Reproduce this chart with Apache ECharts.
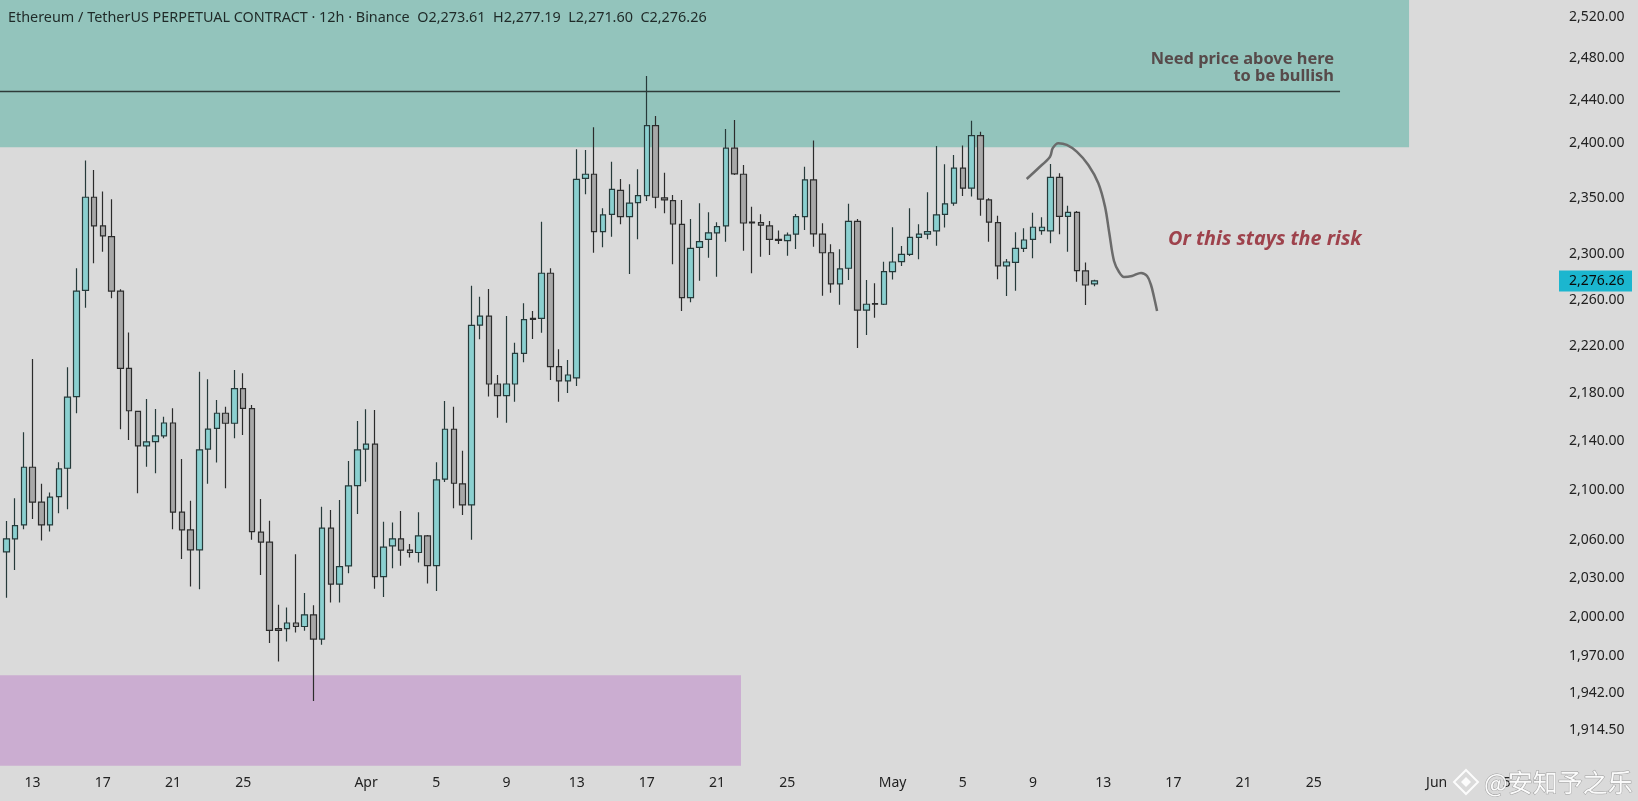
<!DOCTYPE html>
<html><head><meta charset="utf-8">
<script src="https://cdn.jsdelivr.net/npm/echarts@6/dist/echarts.min.js"></script>
<style>html,body{margin:0;padding:0;background:#dadada;}#c{width:1638px;height:801px;}</style>
</head><body><div id="c"></div>
<script>
// x is measured in hours after 2023-03-13 00:00 UTC ; first candle is 36h before it, 12h candles
const anchor = Date.UTC(2023, 2, 13, 0, 0);
const H = 3600 * 1000;
const firstCandleHour = -36;
const candleHours = 12;

const opens = [
2050.8,2061.1,2072.2,2118.7,2090.4,2072.2,2094.9,2117.9,2177.1,2268.0,
2350.8,2325.0,2315.4,2267.4,2200.9,2164.8,2136.2,2139.7,2144.4,2155.1,
2082.4,2068.2,2052.4,2133.5,2150.7,2163.2,2154.9,2183.8,2167.0,2066.4,
2058.5,1991.0,1991.0,1995.4,1992.7,2001.7,1983.1,2069.6,2025.4,2039.8,
2103.8,2133.5,2137.6,2031.4,2055.6,2061.1,2052.2,2050.3,2063.4,2040.0,
2109.0,2149.9,2105.2,2088.2,2237.9,2245.7,2187.7,2177.9,2187.7,2213.7,
2243.7,2243.7,2283.0,2202.3,2190.3,2192.8,2368.0,2371.7,2319.9,2335.4,
2357.1,2333.3,2345.9,2352.2,2416.5,2350.2,2347.8,2326.4,2261.6,2305.9,
2313.0,2318.8,2325.0,2395.6,2371.7,2328.3,2327.9,2325.0,2312.9,2311.8,
2317.6,2333.3,2366.5,2317.6,2301.1,2273.6,2287.4,2329.1,2250.9,2256.5,
2255.9,2284.4,2293.2,2299.7,2314.8,2317.6,2320.5,2335.4,2345.4,2377.2,
2359.0,2407.2,2348.4,2327.9,2289.4,2292.6,2305.0,2313.0,2320.8,2320.5,
2368.9,2333.6,2337.2,2285.0,2273.61];
const closes = [
2061.1,2071.6,2118.7,2090.4,2072.2,2094.4,2117.3,2176.6,2267.4,2350.8,
2325.0,2316.0,2267.4,2200.9,2165.3,2136.2,2139.5,2144.4,2155.1,2082.4,
2068.2,2052.4,2132.9,2150.1,2163.2,2154.9,2183.8,2167.3,2066.9,2058.5,
1989.7,1989.7,1995.4,1992.7,2001.7,1983.1,2069.6,2025.4,2039.2,2103.5,
2132.9,2137.6,2031.4,2054.5,2061.1,2052.2,2050.3,2063.4,2040.0,2108.4,
2149.9,2105.7,2088.2,2237.7,2245.7,2187.7,2177.9,2187.7,2213.7,2242.6,
2242.7,2283.0,2202.3,2190.3,2195.3,2367.1,2371.7,2319.9,2334.8,2358.0,
2333.3,2345.4,2352.2,2416.5,2350.8,2348.4,2326.7,2261.6,2305.0,2310.9,
2318.8,2324.4,2395.6,2372.0,2327.6,2327.6,2325.6,2313.0,2312.1,2316.7,
2333.3,2366.5,2317.8,2301.1,2273.6,2286.8,2329.1,2250.9,2255.9,2256.0,
2284.4,2292.9,2299.7,2314.8,2317.6,2319.9,2334.8,2344.8,2377.2,2359.0,
2407.2,2349.0,2328.3,2289.4,2292.9,2305.0,2312.4,2323.8,2323.8,2368.9,
2333.6,2337.2,2285.3,2272.7,2276.26];
const lows = [
2014.8,2036.6,2068.8,2077.0,2059.7,2066.9,2081.6,2084.8,2163.2,2252.9,
2291.8,2302.0,2261.1,2149.9,2141.1,2097.6,2119.2,2113.8,2142.5,2068.8,
2045.1,2023.6,2021.5,2105.2,2122.5,2101.7,2142.5,2145.2,2060.3,2032.7,
1980.1,1966.0,1981.3,1988.1,1989.4,1936.3,1978.8,2011.2,2011.2,2034.0,
2081.0,2107.0,2021.8,2015.4,2037.9,2039.8,2046.3,2042.4,2025.9,2020.2,
2106.8,2085.6,2080.2,2060.3,2225.7,2177.1,2159.5,2155.4,2172.9,2206.0,
2225.9,2231.3,2191.1,2172.9,2180.2,2186.1,2353.5,2301.1,2305.9,2315.4,
2326.5,2282.4,2313.0,2347.5,2340.8,2336.3,2290.9,2250.0,2257.6,2276.5,
2296.7,2280.0,2310.9,2371.1,2302.9,2283.0,2297.6,2299.1,2308.8,2298.5,
2304.4,2321.4,2306.4,2263.3,2266.0,2255.5,2277.1,2218.2,2229.3,2244.3,
2255.3,2277.5,2289.4,2298.2,2295.3,2313.0,2307.4,2323.5,2343.2,2352.0,
2351.4,2334.1,2310.9,2277.7,2263.0,2267.7,2301.8,2296.2,2317.0,2309.5,
2317.6,2302.0,2275.6,2255.3,2271.60];
const highs = [
2075.4,2093.6,2147.4,2208.9,2105.2,2098.1,2122.8,2201.8,2287.4,2384.2,
2375.6,2355.9,2349.0,2268.9,2231.6,2165.3,2175.1,2166.7,2160.3,2167.3,
2125.5,2091.6,2198.1,2191.7,2174.3,2168.7,2199.5,2196.7,2170.1,2093.0,
2075.6,2009.5,2007.4,2049.0,2018.5,2009.0,2086.8,2084.2,2092.2,2123.9,
2156.8,2166.5,2165.9,2074.8,2074.1,2083.4,2057.1,2082.4,2064.2,2122.8,
2173.5,2168.7,2132.1,2272.1,2262.5,2269.2,2195.3,2245.7,2222.8,2256.7,
2250.0,2328.8,2287.4,2217.1,2208.0,2394.6,2394.0,2415.0,2340.8,2383.2,
2367.4,2362.6,2376.2,2463.2,2425.5,2373.1,2352.9,2348.4,2331.2,2345.4,
2337.2,2328.3,2413.4,2421.8,2380.2,2342.3,2335.4,2329.4,2320.8,2319.0,
2335.7,2378.6,2402.6,2327.4,2308.6,2304.1,2344.8,2331.2,2277.1,2274.2,
2293.2,2323.8,2307.1,2340.8,2326.5,2355.3,2397.7,2380.9,2389.4,2398.0,
2421.1,2410.9,2349.9,2334.1,2295.6,2319.3,2322.9,2336.8,2332.7,2381.1,
2372.6,2343.2,2338.4,2292.4,2277.19];

const xTickDates = ['2023-03-13','2023-03-17','2023-03-21','2023-03-25','2023-04-01','2023-04-05','2023-04-09','2023-04-13','2023-04-17','2023-04-21','2023-04-25','2023-05-01','2023-05-05','2023-05-09','2023-05-13','2023-05-17','2023-05-21','2023-05-25','2023-06-01','2023-06-05'];
const xTickLabels = ['13','17','21','25','Apr','5','9','13','17','21','25','May','5','9','13','17','21','25','Jun','5'];
const yTickValues = [1914.5,1942,1970,2000,2030,2060,2100,2140,2180,2220,2260,2300,2350,2400,2440,2480,2520];

const resistanceLevel = 2449;
const upperZone = [2396.4, 2536.25];
const lowerZone = [1888.7, 1955.6];
// hand-drawn path: hours after anchor, price
const curveHours = [1359.4,1375.3,1391.3,1395.0,1402.7,1414.2,1427.8,1443.7,1457.4,1466.5,1472.4,1478.8,1485.7,1492.5,1503.5,1515.8,1524.0,1529.4,1533.5,1537.7];
const curvePrices = [2367.4,2377.2,2387.8,2395.6,2400.2,2398.6,2392.4,2380.2,2363.5,2342.3,2318.4,2293.8,2284.1,2279.7,2280.6,2283.3,2280.6,2272.7,2262.2,2250.0];

// view window (hours after anchor)
const viewStartH = -44.6, viewEndH = 2088.7;
const lineEndH = 1787.9, upperZoneEndH = 1882.3, lowerZoneEndH = 968.7;

function fmt(v){
  const s = v.toFixed(2).split('.');
  return s[0].replace(/\B(?=(\d{3})+$)/g, ',') + '.' + s[1];
}
const candles = opens.map((o, i) => [firstCandleHour + i * candleHours, o, closes[i], lows[i], highs[i]]);
const xTickValues = xTickDates.map(d => (new Date(d + 'T00:00:00Z').getTime() - anchor) / H);
const last = opens.length - 1;
const titleText = 'Ethereum / TetherUS PERPETUAL CONTRACT · 12h · Binance  O' + fmt(opens[last]) +
  '  H' + fmt(highs[last]) + '  L' + fmt(lows[last]) + '  C' + fmt(closes[last]);
const curve = curveHours.map((h, i) => [h, curvePrices[i]]);

const FONT = '"Noto Sans", "DejaVu Sans", sans-serif';
const chart = echarts.init(document.getElementById('c'), null, {renderer: 'canvas'});
const graphics = [
  {type: 'text', z: 100, x: 8, y: 18, style: {text: titleText, font: '14.4px ' + FONT, fill: '#1f2a28', verticalAlign: 'middle'}},
  {type: 'text', z: 100, x: 1334, y: 51, style: {text: 'Need price above here\nto be bullish', font: 'bold 16.4px ' + FONT, fill: '#574a4a', align: 'right', verticalAlign: 'top', lineHeight: 17}},
  {type: 'text', z: 100, x: 1168, y: 239, style: {text: 'Or this stays the risk', font: 'italic bold 19.8px ' + FONT, fill: '#9e424c', verticalAlign: 'middle'}},
  {type: 'polygon', z: 100, shape: {points: [[1466, 770], [1478, 782], [1466, 794], [1454, 782]]}, style: {fill: 'none', stroke: 'rgba(255,255,255,0.9)', lineWidth: 2}},
  {type: 'polygon', z: 100, shape: {points: [[1466, 777], [1471, 782], [1466, 787], [1461, 782]]}, style: {fill: 'rgba(255,255,255,0.9)'}},
  {type: 'text', z: 100, x: 1484, y: 782, style: {text: '@安知予之乐', font: '25px "Noto Sans CJK SC", sans-serif', fill: 'rgba(255,255,255,0.92)', stroke: 'rgba(110,110,110,0.55)', lineWidth: 1, verticalAlign: 'middle'}}
];
chart.setOption({
  backgroundColor: '#dadada',
  animation: false,
  grid: {left: 0, right: 78, top: 0, bottom: 31, containLabel: false},
  xAxis: {
    type: 'value', min: viewStartH, max: viewEndH, scale: true,
    axisLine: {show: false}, axisTick: {show: false}, splitLine: {show: false},
    axisLabel: {
      customValues: xTickValues,
      formatter: function (v) {
        for (let i = 0; i < xTickValues.length; i++) if (Math.abs(xTickValues[i] - v) < 1) return xTickLabels[i];
        return '';
      },
      color: '#222', fontSize: 14, fontFamily: FONT, margin: 6
    }
  },
  yAxis: {
    type: 'log', logBase: 10, min: 1885.6, max: 2536.25, position: 'right',
    axisLine: {show: false}, axisTick: {show: false}, splitLine: {show: false}, minorTick: {show: false},
    axisLabel: {customValues: yTickValues, formatter: v => fmt(v), color: '#222', fontSize: 14, fontFamily: FONT, margin: 9}
  },
  series: [
    {
      type: 'candlestick',
      data: candles,
      encode: {x: 0, y: [1, 2, 3, 4]},
      barWidth: 6,
      z: 2,
      clip: false,
      itemStyle: {color: '#8bd0d0', color0: '#a8a8a8', borderColor: '#263a3a', borderColor0: '#2c2c2c', borderWidth: 1.2},
      emphasis: {disabled: true},
      markArea: {
        silent: true, z: 1,
        data: [
          [{xAxis: viewStartH, yAxis: upperZone[0], itemStyle: {color: '#93c4bc'}}, {xAxis: upperZoneEndH, yAxis: upperZone[1]}],
          [{xAxis: viewStartH, yAxis: lowerZone[0], itemStyle: {color: '#cbadd1'}}, {xAxis: lowerZoneEndH, yAxis: lowerZone[1]}]
        ]
      },
      markLine: {
        silent: true, symbol: ['none', 'none'], animation: false, z: 5,
        data: [
          [{coord: [viewStartH, resistanceLevel], lineStyle: {color: '#2e3b39', width: 1.3, type: 'solid'}, label: {show: false}},
           {coord: [lineEndH, resistanceLevel]}]
        ]
      }
    },
    {
      type: 'line', data: curve, smooth: 0.35, symbol: 'none', silent: true, z: 3,
      lineStyle: {color: '#6b6b6b', width: 2.5}
    }
  ],
  graphic: graphics
});
// last-price tag on the price scale, positioned through the y axis scale
const py = chart.convertToPixel({yAxisIndex: 0}, closes[last]);
const gridRight = 1638 - 78;
graphics.push({type: 'rect', z: 100, shape: {x: gridRight - 1, y: py - 10.5, width: 73, height: 21}, style: {fill: '#1bb6cf'}});
graphics.push({type: 'text', z: 101, x: gridRight + 9, y: py + 0.5, style: {text: fmt(closes[last]), font: '14px ' + FONT, fill: '#0a0a0a', verticalAlign: 'middle'}});
chart.setOption({graphic: graphics});
</script></body></html>
